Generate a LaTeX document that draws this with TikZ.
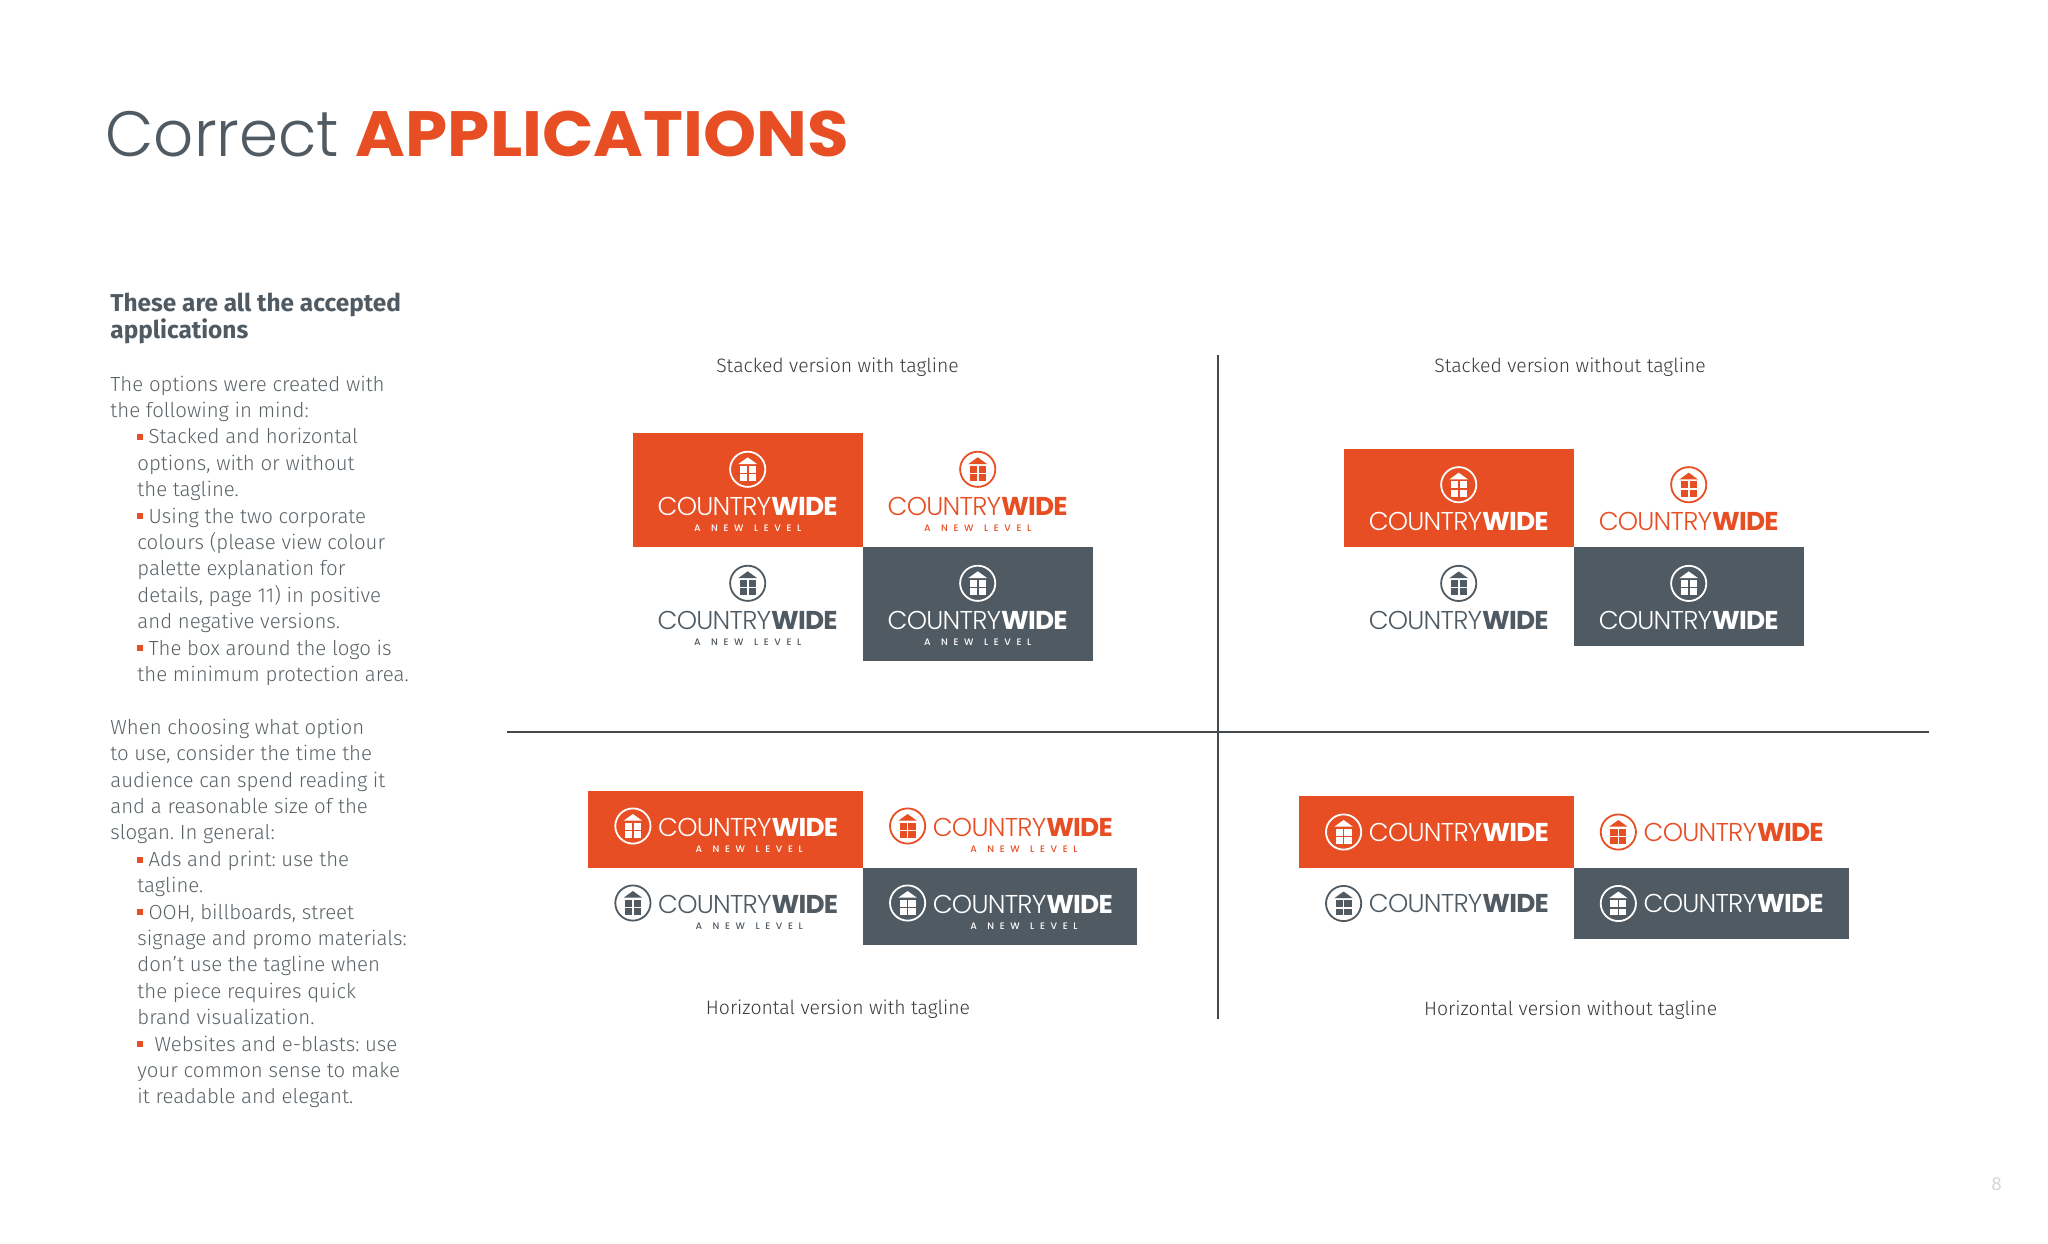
\documentclass[tikz,border=0pt]{standalone}
\usepackage{fontspec}
\usepackage{xcolor}
\usetikzlibrary{positioning}

\setmainfont{Fira Sans}
\newfontfamily\bodyfont{Fira Sans Light}
\newfontfamily\headfont{Fira Sans}[UprightFont=* Bold]
\newfontfamily\titlethin{Poppins Light}[FakeStretch=0.98]
\newfontfamily\titlebold{Poppins}[UprightFont=* Bold, FakeStretch=1.056]
\newfontfamily\wordthin{Poppins Light}[LetterSpace=-3]
\newfontfamily\wordbold{Poppins}[UprightFont=* Bold, LetterSpace=-3, FakeStretch=1.02]
\newfontfamily\tagfont{Poppins Medium}[LetterSpace=60, WordSpace=1.3]

\definecolor{brandorange}{HTML}{E84E23}
\definecolor{brandslate}{HTML}{505A62}
\definecolor{bodygrey}{HTML}{5A6266}
\definecolor{captiongrey}{HTML}{35393C}
\definecolor{rulegrey}{HTML}{44494D}
\definecolor{pagegrey}{HTML}{D5D8DA}

\newcommand{\countrywide}{{\wordthin COUNTRY}{\wordbold WIDE}}
\newcommand{\sqbullet}{\textcolor{brandorange}{\rule[1.9pt]{3pt}{3pt}}\hspace{2.6pt}}
\newcommand{\ind}{\hspace*{13.5pt}}

\begin{document}
\frenchspacing
\begin{tikzpicture}[
x=0.5pt, y=-0.5pt,
logobox/.style={rectangle, inner sep=0pt, outer sep=0pt, minimum width=115pt},
wordmark/.style={inner sep=0pt, font=\fontsize{12.9}{14}\selectfont},
tagline/.style={inner sep=0pt, font=\tagfont\fontsize{4.7}{6}\selectfont},
caption/.style={inner sep=0pt, text=captiongrey, font=\bodyfont\fontsize{9.7}{13}\selectfont},
rule/.style={draw=rulegrey, line width=0.85pt},
housemark/.pic={
  \draw[#1, line width=0.9pt] (0,0) circle (17.6);
  \fill[#1] (0,-12) -- (9.3,-5.3) -- (-9.3,-5.3) -- cycle;
  \fill[#1] (-8,-3.4) rectangle (-0.8,3.6);
  \fill[#1] (0.8,-3.4) rectangle (8,3.6);
  \fill[#1] (-8,5) rectangle (-0.8,11.8);
  \fill[#1] (0.8,5) rectangle (8,11.8);
}
]
\useasboundingbox (0,0) rectangle (2048,1243);

% Title and side text
\node[inner sep=0pt, anchor=base west, text=brandslate, font=\titlethin\fontsize{32}{36}\selectfont] (correct) at (105,156) {Correct};
\node[inner sep=0pt, anchor=base west, text=brandorange, font=\titlebold\fontsize{32}{36}\selectfont] (applications) at (355.5,156) {APPLICATIONS};

\node[inner sep=0pt, anchor=base west, align=left, text=brandslate, font=\headfont\fontsize{12.2}{13.25}\selectfont] (heading) at (110,338) {These are all the accepted\\applications};

\node[inner sep=0pt, anchor=north west, align=left, text=bodygrey, font=\bodyfont\fontsize{10.2}{13.2}\selectfont] (sidetext) at (110,375.4) {%
The options were created with\\
the following in mind:\\
\ind\sqbullet Stacked and horizontal\\
\ind options, with or without\\
\ind the tagline.\\
\ind\sqbullet Using the two corporate\\
\ind colours (please view colour\\
\ind palette explanation for\\
\ind details, page 11) in positive\\
\ind and negative versions.\\
\ind\sqbullet The box around the logo is\\
\ind the minimum protection area.\\
\mbox{}\\
When choosing what option\\
to use, consider the time the\\
audience can spend reading it\\
and a reasonable size of the\\
slogan. In general:\\
\ind\sqbullet Ads and print: use the\\
\ind tagline.\\
\ind\sqbullet OOH, billboards, street\\
\ind signage and promo materials:\\
\ind don’t use the tagline when\\
\ind the piece requires quick\\
\ind brand visualization.\\
\ind\sqbullet\hspace{3pt}Websites and e-blasts: use\\
\ind your common sense to make\\
\ind it readable and elegant.};

% Dividing lines
\coordinate (vtop) at (1218,355);
\coordinate (vbot) at (1218,1019);
\coordinate (hleft) at (507,732);
\coordinate (hright) at (1929,732);
\draw[rule] (vtop) -- (vbot);
\draw[rule] (hleft) -- (hright);

% Captions
\node[caption] (capa) at (837.5,367) {Stacked version with tagline};
\node[caption] (capb) at (1570,367) {Stacked version without tagline};
\node[caption] (capc) at (838,1008.8) {Horizontal version with tagline};
\node[caption] (capd) at (1570.6,1009.9) {Horizontal version without tagline};

% Boxes
\node[logobox, fill=brandorange, minimum height=57pt] (aorange) at (747.7,490.3) {};
\node[logobox, fill=brandslate, minimum height=57pt, anchor=north west] (aslate) at (aorange.south east) {};
\node[logobox, fill=brandorange, minimum height=49.3pt] (borange) at (1458.7,498) {};
\node[logobox, fill=brandslate, minimum height=49.3pt, anchor=north west] (bslate) at (borange.south east) {};
\node[logobox, fill=brandorange, minimum width=137.3pt, minimum height=38.5pt] (corange) at (725.2,829.3) {};
\node[logobox, fill=brandslate, minimum width=137.3pt, minimum height=38.5pt, anchor=north west] (cslate) at (corange.south east) {};
\node[logobox, fill=brandorange, minimum width=137.5pt, minimum height=35.7pt] (dorange) at (1436.3,832) {};
\node[logobox, fill=brandslate, minimum width=137.5pt, minimum height=35.7pt, anchor=north west] (dslate) at (dorange.south east) {};

% Stacked logos
\foreach \nm/\cx/\cy/\ink in {a1/747.7/490.3/white, a2/977.7/490.3/brandorange, a3/747.7/604.3/brandslate, a4/977.7/604.3/white}{
  \pic at (\cx,\cy-21) {housemark=\ink};
  \node[wordmark, text=\ink] (\nm word) at (\cx,\cy+16) {\countrywide};
  \node[tagline, text=\ink] (\nm tag) at (\cx,\cy+38.2) {A NEW LEVEL};
}
\foreach \nm/\cx/\cy/\ink in {b1/1458.7/498/white, b2/1688.7/498/brandorange, b3/1458.7/596.7/brandslate, b4/1688.7/596.7/white}{
  \pic at (\cx,\cy-13.3) {housemark=\ink};
  \node[wordmark, text=\ink] (\nm word) at (\cx,\cy+23.5) {\countrywide};
}

% Horizontal logos
\foreach \nm/\cx/\cy/\ink in {c1/725.3/829.3/white, c2/1000/829.3/brandorange, c3/725.3/906.3/brandslate, c4/1000/906.3/white}{
  \pic at (\cx-92.4,\cy-3.3) {housemark=\ink};
  \node[wordmark, text=\ink] (\nm word) at (\cx+22.8,\cy-2.3) {\countrywide};
  \node[tagline, text=\ink] (\nm tag) at (\cx+23.9,\cy+19.5) {A NEW LEVEL};
}
\foreach \nm/\cx/\cy/\ink in {d1/1436.3/832/white, d2/1711/832/brandorange, d3/1436.3/903.5/brandslate, d4/1711/903.5/white}{
  \pic at (\cx-92.7,\cy) {housemark=\ink};
  \node[wordmark, text=\ink] (\nm word) at (\cx+22.6,\cy) {\countrywide};
}

% Page number
\node[inner sep=0pt, text=pagegrey, font=\fontsize{9.5}{10}\selectfont] (pagenum) at (1996.7,1184) {8};

\end{tikzpicture}
\end{document}
